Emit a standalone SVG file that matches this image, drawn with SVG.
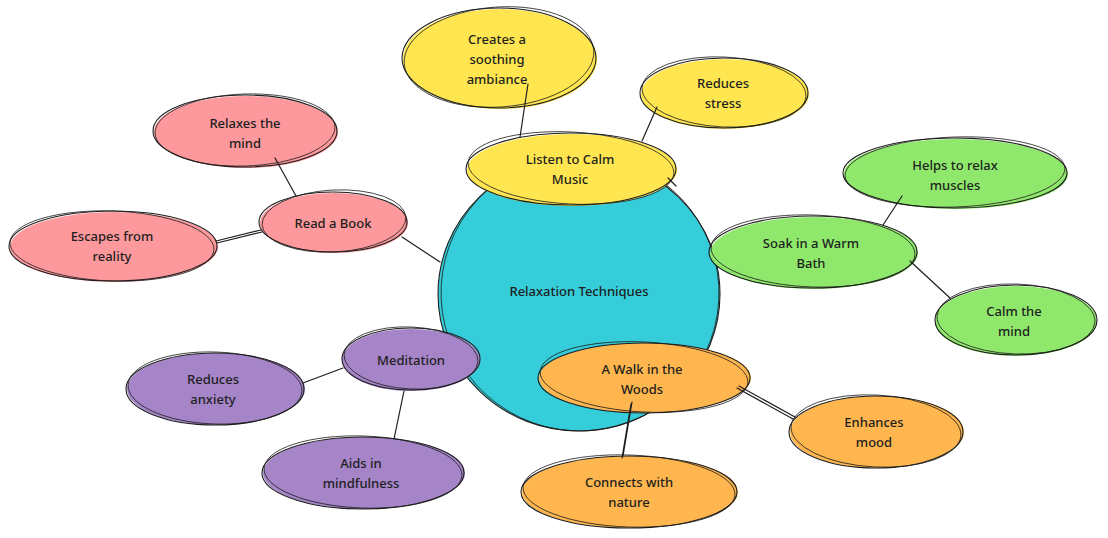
<svg xmlns="http://www.w3.org/2000/svg" width="1108" height="538" viewBox="0 0 1108 538">
<style>
  text { font-family: "Noto Sans", "Open Sans", sans-serif; font-size: 13px; font-weight: 500; fill: #1e1e1e; text-anchor: middle; }
  .s { fill: none; stroke: #1e1e1e; stroke-width: 1.1; }
  .s2 { fill: none; stroke: #1e1e1e; stroke-width: 0.8; }
  .ln { fill: none; stroke: #1e1e1e; stroke-width: 1.2; stroke-linecap: round; }
  .cyan { fill: #36cdda; }
  .yel { fill: #ffe650; }
  .pink { fill: #fd999c; }
  .grn { fill: #8fe86b; }
  .pur { fill: #a585c8; }
  .org { fill: #ffb64f; }
</style>
<rect width="1108" height="538" fill="#ffffff"/>

<g id="center">
  <ellipse class="cyan" cx="579" cy="294" rx="141" ry="137"/>
  <ellipse class="s" cx="579" cy="294" rx="141" ry="137"/>
  <ellipse class="s2" cx="580" cy="293" rx="139" ry="138" transform="rotate(3 580 293)"/>
  <text x="579" y="296">Relaxation Techniques</text>
</g>

<g id="n-read">
  <ellipse class="pink" cx="334" cy="223" rx="74" ry="30"/>
  <ellipse class="s" cx="333" cy="222" rx="74" ry="30"/>
  <ellipse class="s2" cx="334" cy="221" rx="72" ry="31" transform="rotate(-3 334 221)"/>
  <text x="333" y="228">Read a Book</text>
</g>
<g id="n-relaxes">
  <ellipse class="pink" cx="246" cy="132" rx="92" ry="36"/>
  <ellipse class="s" cx="245" cy="131" rx="92" ry="36"/>
  <ellipse class="s2" cx="245" cy="130" rx="90" ry="36" transform="rotate(-2 245 130)"/>
  <text x="245" y="128">Relaxes the</text>
  <text x="245" y="148">mind</text>
</g>
<g id="n-escapes">
  <ellipse class="pink" cx="114" cy="247" rx="104" ry="35"/>
  <ellipse class="s" cx="113" cy="246" rx="104" ry="35"/>
  <ellipse class="s2" cx="112" cy="246" rx="102" ry="35" transform="rotate(2 112 246)"/>
  <text x="112" y="241">Escapes from</text>
  <text x="112" y="261">reality</text>
</g>

<g id="n-listen">
  <ellipse class="yel" cx="572" cy="170" rx="105" ry="36"/>
  <ellipse class="s" cx="571" cy="169" rx="105" ry="36"/>
  <ellipse class="s2" cx="571" cy="168" rx="103" ry="36" transform="rotate(3 571 168)"/>
  <text x="570" y="164">Listen to Calm</text>
  <text x="570" y="184">Music</text>
</g>
<g id="n-creates">
  <ellipse class="yel" cx="500" cy="59" rx="97" ry="50"/>
  <ellipse class="s" cx="499" cy="58" rx="97" ry="50"/>
  <ellipse class="s2" cx="499" cy="57" rx="95" ry="50" transform="rotate(-4 499 57)"/>
  <text x="497" y="44">Creates a</text>
  <text x="497" y="64">soothing</text>
  <text x="497" y="84">ambiance</text>
</g>
<g id="n-stress">
  <ellipse class="yel" cx="725" cy="94" rx="84" ry="35"/>
  <ellipse class="s" cx="724" cy="93" rx="84" ry="35"/>
  <ellipse class="s2" cx="724" cy="92" rx="82" ry="35" transform="rotate(3 724 92)"/>
  <text x="723" y="88">Reduces</text>
  <text x="723" y="108">stress</text>
</g>

<g id="n-soak">
  <ellipse class="grn" cx="814" cy="253" rx="104" ry="36"/>
  <ellipse class="s" cx="813" cy="252" rx="104" ry="36"/>
  <ellipse class="s2" cx="813" cy="251" rx="102" ry="36" transform="rotate(2 813 251)"/>
  <text x="811" y="248">Soak in a Warm</text>
  <text x="811" y="268">Bath</text>
</g>
<g id="n-helps">
  <ellipse class="grn" cx="956" cy="174" rx="112" ry="35"/>
  <ellipse class="s" cx="955" cy="173" rx="112" ry="35"/>
  <ellipse class="s2" cx="955" cy="172" rx="110" ry="35" transform="rotate(-2 955 172)"/>
  <text x="955" y="170">Helps to relax</text>
  <text x="955" y="190">muscles</text>
</g>
<g id="n-calm">
  <ellipse class="grn" cx="1016" cy="321" rx="81" ry="35"/>
  <ellipse class="s" cx="1016" cy="320" rx="81" ry="35"/>
  <ellipse class="s2" cx="1016" cy="319" rx="79" ry="35" transform="rotate(2 1016 319)"/>
  <text x="1014" y="316">Calm the</text>
  <text x="1014" y="336">mind</text>
</g>

<g id="n-meditation">
  <ellipse class="pur" cx="411" cy="360" rx="69" ry="31"/>
  <ellipse class="s" cx="411" cy="359" rx="69" ry="31"/>
  <ellipse class="s2" cx="411" cy="358" rx="67" ry="31" transform="rotate(3 411 358)"/>
  <text x="411" y="365">Meditation</text>
</g>
<g id="n-anxiety">
  <ellipse class="pur" cx="216" cy="389" rx="89" ry="36"/>
  <ellipse class="s" cx="215" cy="389" rx="89" ry="36"/>
  <ellipse class="s2" cx="215" cy="388" rx="87" ry="36" transform="rotate(2 215 388)"/>
  <text x="213" y="384">Reduces</text>
  <text x="213" y="404">anxiety</text>
</g>
<g id="n-aids">
  <ellipse class="pur" cx="364" cy="473" rx="101" ry="36"/>
  <ellipse class="s" cx="363" cy="473" rx="101" ry="36"/>
  <ellipse class="s2" cx="363" cy="472" rx="99" ry="36" transform="rotate(2 363 472)"/>
  <text x="361" y="468">Aids in</text>
  <text x="361" y="488">mindfulness</text>
</g>

<g id="n-walk">
  <ellipse class="org" cx="645" cy="378" rx="106" ry="35"/>
  <ellipse class="s" cx="644" cy="378" rx="106" ry="35"/>
  <ellipse class="s2" cx="644" cy="377" rx="104" ry="35" transform="rotate(3 644 377)"/>
  <text x="642" y="374">A Walk in the</text>
  <text x="642" y="394">Woods</text>
</g>
<g id="n-enhances">
  <ellipse class="org" cx="877" cy="432" rx="87" ry="36"/>
  <ellipse class="s" cx="876" cy="432" rx="87" ry="36"/>
  <ellipse class="s2" cx="876" cy="431" rx="85" ry="36" transform="rotate(3 876 431)"/>
  <text x="874" y="427">Enhances</text>
  <text x="874" y="447">mood</text>
</g>
<g id="n-connects">
  <ellipse class="org" cx="630" cy="492" rx="108" ry="36"/>
  <ellipse class="s" cx="629" cy="492" rx="108" ry="36"/>
  <ellipse class="s2" cx="629" cy="491" rx="106" ry="36" transform="rotate(2 629 491)"/>
  <text x="629" y="487">Connects with</text>
  <text x="629" y="507">nature</text>
</g>

<g id="connectors">
  <path class="ln" d="M440 262 L402 237"/>
  <path class="ln" d="M296 196 L275 158"/>
  <path class="ln" d="M261 230 L216 241 M262 232 L217 243"/>
  <path class="ln" d="M520 137 L528 84"/>
  <path class="ln" d="M642 141 L657 107"/>
  <path class="ln" d="M883 225 L902 196"/>
  <path class="ln" d="M910 261 L950 298"/>
  <path class="ln" d="M343 368 L303 383"/>
  <path class="ln" d="M404 391 L394 439"/>
  <path class="ln" d="M737 388 L793 419 M739 386 L795 417"/>
  <path class="ln" d="M631 404 L622 458 M632 402 L623 456"/>
  <path class="ln" d="M668 178 L676 186"/>
</g>
</svg>
